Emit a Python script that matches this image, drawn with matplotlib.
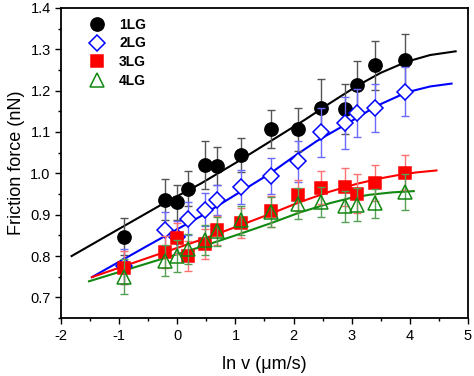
import numpy as np
import matplotlib
matplotlib.use("Agg")
import matplotlib.pyplot as plt
from matplotlib.ticker import MultipleLocator

plt.rcParams['font.family'] = ['Liberation Sans', 'DejaVu Sans']
plt.rcParams['axes.unicode_minus'] = False

# ln v positions (shared by all samples)
ln_v = [-0.92, -0.22, 0.0, 0.18, 0.47, 0.69, 1.10, 1.61, 2.08, 2.48, 2.89, 3.09, 3.40, 3.91]

f_1lg = [0.847, 0.936, 0.930, 0.963, 1.021, 1.017, 1.044, 1.108, 1.106, 1.159, 1.156, 1.214, 1.261, 1.273]
e_1lg = [0.044, 0.050, 0.043, 0.043, 0.058, 0.046, 0.041, 0.046, 0.053, 0.068, 0.060, 0.058, 0.059, 0.065]

f_2lg = [0.775, 0.862, 0.845, 0.890, 0.912, 0.936, 0.967, 0.993, 1.029, 1.099, 1.122, 1.147, 1.159, 1.197]
e_2lg = [0.042, 0.045, 0.040, 0.040, 0.040, 0.036, 0.042, 0.044, 0.050, 0.059, 0.062, 0.058, 0.058, 0.059]

f_3lg = [0.772, 0.810, 0.843, 0.800, 0.830, 0.862, 0.880, 0.908, 0.947, 0.965, 0.967, 0.951, 0.977, 1.002]
e_3lg = [0.040, 0.038, 0.038, 0.036, 0.036, 0.035, 0.036, 0.038, 0.038, 0.040, 0.046, 0.048, 0.044, 0.042]

f_4lg = [0.750, 0.789, 0.800, 0.818, 0.838, 0.860, 0.886, 0.906, 0.927, 0.931, 0.920, 0.924, 0.928, 0.955]
e_4lg = [0.042, 0.038, 0.038, 0.036, 0.036, 0.035, 0.036, 0.036, 0.038, 0.036, 0.038, 0.040, 0.035, 0.043]

# fitted curves
fit1_x = [-1.82, -1.0, -0.29, 0.4, 1.0, 1.63, 2.2, 2.63, 3.1, 3.5, 3.95, 4.35, 4.79]
fit1_y = [0.800, 0.866, 0.923, 0.975, 1.025, 1.080, 1.130, 1.170, 1.212, 1.243, 1.270, 1.286, 1.295]
fit2_x = [-1.47, -0.5, 0.4, 1.0, 1.6, 2.0, 2.4, 2.92, 3.43, 3.95, 4.35, 4.72]
fit2_y = [0.749, 0.826, 0.896, 0.948, 1.000, 1.040, 1.078, 1.120, 1.163, 1.196, 1.210, 1.217]
fit3_x = [-1.47, -0.5, 0.4, 1.0, 1.6, 2.1, 2.63, 3.1, 3.5, 3.77, 4.1, 4.46]
fit3_y = [0.749, 0.796, 0.839, 0.870, 0.902, 0.930, 0.956, 0.975, 0.988, 0.995, 1.002, 1.007]
fit4_x = [-1.52, -0.5, 0.4, 1.0, 1.6, 2.1, 2.63, 2.97, 3.3, 3.7, 4.07]
fit4_y = [0.739, 0.783, 0.822, 0.850, 0.879, 0.905, 0.928, 0.940, 0.948, 0.954, 0.957]

fig = plt.figure(figsize=(4.74, 3.76), dpi=100)
ax = fig.add_axes([0.129, 0.154, 0.858, 0.825])

ax.plot(fit1_x, fit1_y, color='black', lw=1.5, zorder=2)
ax.plot(fit2_x, fit2_y, color='#0000ff', lw=1.5, zorder=2)
ax.plot(fit3_x, fit3_y, color='#ff0000', lw=1.5, zorder=2)
ax.plot(fit4_x, fit4_y, color='#118811', lw=1.5, zorder=2)

series = [
    (f_1lg, e_1lg, '1LG', 'o', 'black', 'black', '#555555', 9.5),
    (f_2lg, e_2lg, '2LG', 'D', 'white', '#0000ff', '#6a6aff', 8.5),
    (f_3lg, e_3lg, '3LG', 's', '#ff0000', '#ff0000', '#ff7070', 8.5),
    (f_4lg, e_4lg, '4LG', '^', 'none', '#118811', '#55a055', 10),
]
for i, (y, e, lab, mk, fc, ec, bc, ms) in enumerate(series):
    ax.errorbar(ln_v, y, yerr=e, fmt='none', ecolor=bc, elinewidth=1,
                capsize=3, capthick=1, zorder=3 + i)
    ax.plot(ln_v, y, linestyle='none', marker=mk, markersize=ms,
            markerfacecolor=fc, markeredgecolor=ec, markeredgewidth=1.1,
            label=lab, zorder=3.5 + i)

ax.set_xlim(-2, 5)
ax.set_ylim(0.65, 1.4)
ax.xaxis.set_major_locator(MultipleLocator(1))
ax.xaxis.set_minor_locator(MultipleLocator(0.5))
ax.yaxis.set_major_locator(MultipleLocator(0.1))
ax.yaxis.set_minor_locator(MultipleLocator(0.05))
ax.yaxis.set_major_formatter(plt.FormatStrFormatter('%.1f'))
ax.tick_params(which='both', direction='out', top=False, right=False, labelsize=10.5)
ax.tick_params(which='major', length=4, width=1)
ax.tick_params(which='minor', length=2.5, width=1)
for s in ax.spines.values():
    s.set_linewidth(1.3)

ax.set_xlabel('ln v (\u03bcm/s)', fontsize=13, labelpad=10)
ax.set_ylabel('Friction force (nN)', fontsize=13, labelpad=4)

leg = ax.legend(loc='upper left', frameon=False, prop={'weight': 'bold', 'size': 10},
                handletextpad=0.6, labelspacing=0.35, borderaxespad=0.3,
                bbox_to_anchor=(0.03, 1.0))

fig.savefig('out.png', dpi=100)
